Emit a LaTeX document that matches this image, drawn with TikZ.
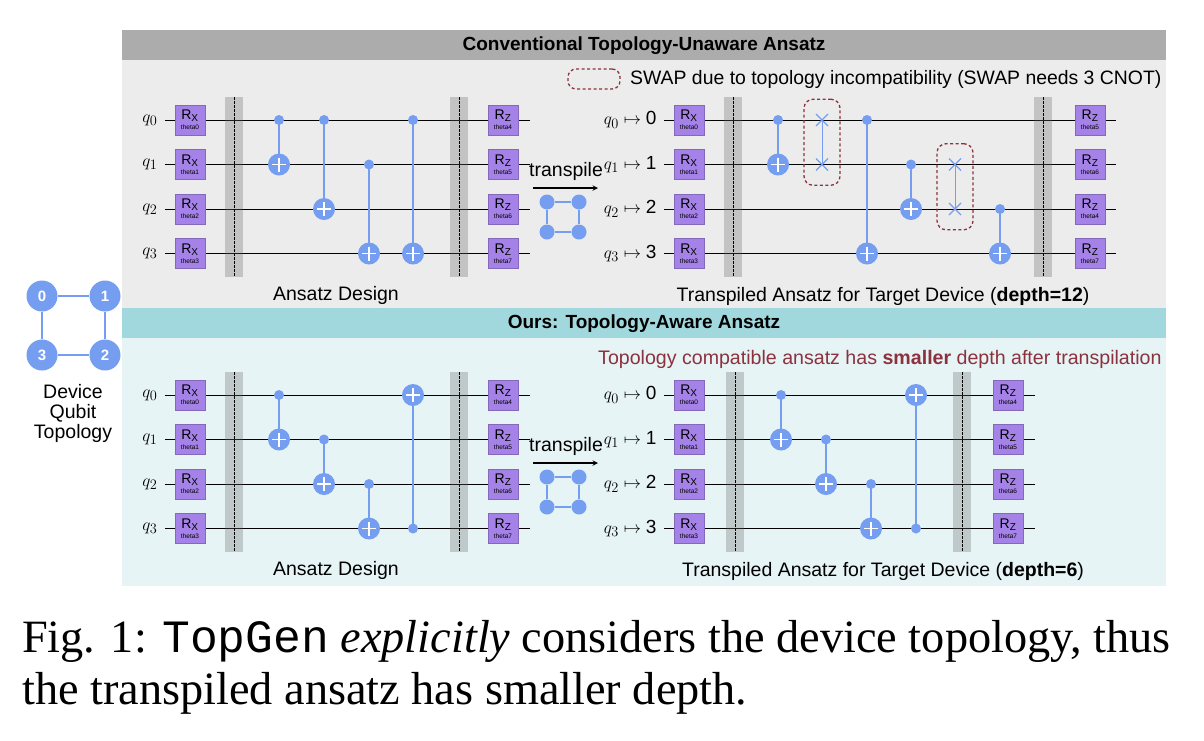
\documentclass[tikz,border=0pt]{standalone}
\usepackage{fontspec}
\setmainfont{Liberation Serif}
\setsansfont{Liberation Sans}
\usepackage{amsmath}
\definecolor{qblue}{RGB}{118,158,240}
\definecolor{qpurp}{RGB}{165,130,232}
\definecolor{hdrgray}{RGB}{172,172,172}
\definecolor{bggray}{RGB}{236,236,236}
\definecolor{hdrteal}{RGB}{160,216,222}
\definecolor{bgteal}{RGB}{230,244,246}
\definecolor{darkred}{RGB}{140,50,62}
\tikzset{
  wire/.style={black,line width=0.9pt},
  gbox/.style={fill=qpurp,draw=qpurp!80!black,line width=0.2pt,minimum width=30pt,minimum height=30pt,inner sep=0pt,align=center,font=\sffamily},
  barr/.style={fill=black!60,fill opacity=0.3,draw=none},
  cn/.style={qblue,line width=1.4pt},
  targ/.style={circle,fill=qblue,minimum size=22pt,inner sep=0pt},
  ctrl/.style={circle,fill=qblue,minimum size=10pt,inner sep=0pt},
  lbl/.style={font=\sffamily\fontsize{19.5}{20}\selectfont},
  qlab/.style={anchor=east,font=\fontsize{19}{19}\selectfont},
  topo/.style={circle,fill=qblue,inner sep=0pt,text=white,font=\sffamily\bfseries\fontsize{15}{15}\selectfont},
  swapbox/.style={draw=darkred,dashed,line width=1.3pt,rounded corners=9pt,dash pattern=on 3pt off 2.5pt},
}
\newcommand{\qcnot}[4]{% name, x, yctrl, ytarg
  \draw[cn] (#2,#3) -- (#2,#4);
  \node[ctrl] (#1c) at (#2,#3) {};
  \node[targ] (#1t) at (#2,#4) {};
  \draw[white,line width=1.4pt] (#2-7,#4)--(#2+7,#4) (#2,#4-7)--(#2,#4+7);}
\newcommand{\qswap}[4]{%
  \draw[cn,line width=1pt] (#2,#3) -- (#2,#4);
  \foreach \yy in {#3,#4}{\draw[qblue,line width=1.3pt] (#2-6,\yy-6)--(#2+6,\yy+6) (#2-6,\yy+6)--(#2+6,\yy-6);}
  \node[swapbox,minimum width=36pt,minimum height=86pt] (#1) at (#2,{(#3+#4)/2}) {};}
\newcommand{\qgate}[5]{% name,x,y,letter,theta
  \node[gbox] (#1) at (#2,#3) {\fontsize{14}{11}\selectfont R\textsubscript{\fontsize{10}{10}\selectfont #4}\\[-2pt]\fontsize{6.5}{6.5}\selectfont #5};}
\newcommand{\qbarrier}[3]{% x, ytop, ybot
  \fill[barr] (#1-9,#2) rectangle (#1+9,#3);
  \draw[black,dashed,line width=0.6pt,dash pattern=on 2.5pt off 1.5pt] (#1,#2) -- (#1,#3);}
\begin{document}
\begin{tikzpicture}[x=1pt,y=-1pt]
\useasboundingbox (0,0) rectangle (1204,740);
\fill[white] (0,0) rectangle (1204,740);
% panels
\fill[bggray] (122,30) rectangle (1166,308);
\fill[hdrgray] (122,30) rectangle (1166,60);
\node[font=\sffamily\bfseries\fontsize{19}{19}\selectfont] (h1) at (644,46) {Conventional Topology-Unaware Ansatz};
\fill[bgteal] (122,308) rectangle (1166,586);
\fill[hdrteal] (122,308) rectangle (1166,338);
\node[font=\sffamily\bfseries\fontsize{19}{19}\selectfont] (h2) at (644,324) {Ours: Topology-Aware Ansatz};
% legend
\node[swapbox,minimum width=52pt,minimum height=20pt,rounded corners=8pt] (leg) at (594,79) {};
\node[anchor=west,font=\sffamily\fontsize{19.4}{19}\selectfont,inner sep=0pt] (legt) at (630,79) {SWAP due to topology incompatibility (SWAP needs 3 CNOT)};
\node[anchor=west,text=darkred,font=\sffamily\fontsize{19.6}{19}\selectfont,inner sep=0pt] (note) at (598,359) {Topology compatible ansatz has \textbf{smaller} depth after transpilation};
% circuits
\foreach \off/\sfx in {0/a,275/b}{
  \foreach \q in {0,1,2,3}{
    \pgfmathsetmacro{\yy}{120+44.5*\q+\off}
    \draw[wire] (165,\yy) -- (530,\yy);
    \node[qlab] (ql\sfx\q) at (161,\yy) {$q_{\q}$};
    \draw[wire] (664,\yy) -- (\ifnum\off=0 1116\else 1035\fi,\yy);
    \node[qlab] (qr\sfx\q) at (660,\yy) {$q_{\q}\mapsto \textsf{\q}$};
    \qgate{rxl\sfx\q}{190}{\yy}{X}{theta\q}
    \qgate{rxr\sfx\q}{689}{\yy}{X}{theta\q}
  }
  \qbarrier{234}{97+\off}{277+\off}
  \qbarrier{459}{97+\off}{277+\off}
  \node[lbl] (ad\sfx) at (336,295+\off) {Ansatz Design};
  % transpile
  \node[lbl] (tr\sfx) at (566,171+\off) {transpile};
  \coordinate (trs\sfx) at (533,188+\off);
  \coordinate (tre\sfx) at (598,188+\off);
  \draw[-stealth,line width=1.4pt] (trs\sfx) -- (tre\sfx);
  \node[circle,fill=qblue,minimum size=15pt,inner sep=0pt] (s0\sfx) at (547,202+\off) {};
  \node[circle,fill=qblue,minimum size=15pt,inner sep=0pt] (s1\sfx) at (579,202+\off) {};
  \node[circle,fill=qblue,minimum size=15pt,inner sep=0pt] (s2\sfx) at (579,232+\off) {};
  \node[circle,fill=qblue,minimum size=15pt,inner sep=0pt] (s3\sfx) at (547,232+\off) {};
  \draw[qblue,line width=2.5pt] (s0\sfx)--(s1\sfx)--(s2\sfx)--(s3\sfx)--(s0\sfx);
}
% top-left Rz and CNOTs
\foreach \q/\t in {0/4,1/5,2/6,3/7}{\qgate{rzla\q}{503}{120+44.5*\q}{Z}{theta\t}}
\qcnot{ca1}{279}{120}{164.5}
\qcnot{ca2}{324}{120}{209}
\qcnot{ca3}{369}{164.5}{253.5}
\qcnot{ca4}{413}{120}{253.5}
% top-right
\qbarrier{733}{97}{277}
\qbarrier{1043}{97}{277}
\foreach \q/\t in {0/5,1/6,2/4,3/7}{\qgate{rzra\q}{1090}{120+44.5*\q}{Z}{theta\t}}
\qcnot{cr1}{778}{120}{164.5}
\qswap{sw1}{822}{120}{164.5}
\qcnot{cr2}{867}{120}{253.5}
\qcnot{cr3}{911}{164.5}{209}
\qswap{sw2}{955}{164.5}{209}
\qcnot{cr4}{1000}{209}{253.5}
\node[lbl] (ta) at (883,296) {Transpiled Ansatz for Target Device (\textbf{depth=12})};
% bottom-left
\foreach \q/\t in {0/4,1/5,2/6,3/7}{\qgate{rzlb\q}{503}{395+44.5*\q}{Z}{theta\t}}
\qcnot{cb1}{279}{395}{439.5}
\qcnot{cb2}{324}{439.5}{484}
\qcnot{cb3}{369}{484}{528.5}
\qcnot{cb4}{413}{528.5}{395}
% bottom-right
\qbarrier{735}{372}{552}
\qbarrier{962}{372}{552}
\foreach \q/\t in {0/4,1/5,2/6,3/7}{\qgate{rzrb\q}{1008}{395+44.5*\q}{Z}{theta\t}}
\qcnot{cs1}{781}{395}{439.5}
\qcnot{cs2}{826}{439.5}{484}
\qcnot{cs3}{871}{484}{528.5}
\qcnot{cs4}{916}{528.5}{395}
\node[lbl] (tb) at (883,571) {Transpiled Ansatz for Target Device (\textbf{depth=6})};
% device topology
\node[topo,minimum size=31pt] (d0) at (42,296) {0};
\node[topo,minimum size=31pt] (d1) at (105,296) {1};
\node[topo,minimum size=31pt] (d2) at (105,355) {2};
\node[topo,minimum size=31pt] (d3) at (42,355) {3};
\draw[qblue,line width=2pt] (d0)--(d1)--(d2)--(d3)--(d0);
\node[lbl,align=center] (dt) at (73,413) {Device\\[0pt]Qubit\\[0pt]Topology};
% caption
\node[anchor=base west,inner sep=0pt,font=\fontsize{46.3}{46}\selectfont] (cap1) at (22,652) {Fig. 1: {\fontspec{Liberation Mono}TopGen} \emph{explicitly} considers the device topology, thus};
\node[anchor=base west,inner sep=0pt,font=\fontsize{46.3}{46}\selectfont] (cap2) at (22,704) {the transpiled ansatz has smaller depth.};
\end{tikzpicture}
\end{document}
